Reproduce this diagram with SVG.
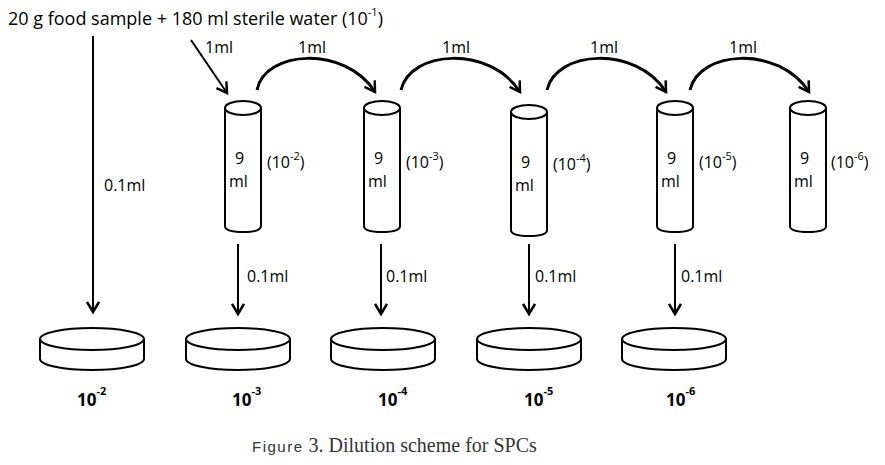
<svg xmlns="http://www.w3.org/2000/svg" width="885" height="465" viewBox="0 0 885 465">
<style>
text{font-family:"Open Sans","Liberation Sans",sans-serif;font-size:16px;fill:#000}
.s{fill:#fff;stroke:#000;stroke-width:2}
.a{fill:none;stroke:#000;stroke-width:2;marker-end:url(#ah)}
.t{stroke-width:3}
.b{font-weight:bold;font-size:17px}
.sup{font-size:11px}
</style>
<defs>
<marker id="ah" markerWidth="14" markerHeight="14" refX="11" refY="7" orient="auto" markerUnits="userSpaceOnUse"><path d="M1,1 L11,7 L1,13" fill="none" stroke="#000" stroke-width="2.5"/></marker>
<g id="tube"><path class="s" d="M-18,0 V118 Q-18,124 0,124 Q18,124 18,118 V0"/><ellipse class="s" cx="0" cy="0" rx="18" ry="7"/></g>
<g id="dish"><path class="s" d="M-52,0 V20 A52,11 0 0 0 52,20 V0"/><ellipse class="s" cx="0" cy="0" rx="52" ry="11"/></g>
</defs>
<text x="8" y="25" style="font-size:18px">20 g food sample + 180 ml sterile water (10<tspan class="sup" dy="-9">-1</tspan><tspan dy="9">)</tspan></text>
<g id="connectors">
<line class="a" x1="93" y1="36" x2="93" y2="312"/>
<line class="a" x1="191" y1="40" x2="227" y2="93"/>
<path class="a t" d="M257,90 C265,50 345,45 375,92"/>
<path class="a t" d="M401,90 C410,50 490,45 520,92"/>
<path class="a t" d="M547,90 C556,50 636,45 666,92"/>
<path class="a t" d="M690,90 C699,50 779,45 809,92"/>
<line class="a" x1="238" y1="244" x2="238" y2="314"/>
<line class="a" x1="381" y1="244" x2="381" y2="314"/>
<line class="a" x1="529" y1="244" x2="529" y2="314"/>
<line class="a" x1="675" y1="244" x2="675" y2="314"/>
</g>
<text x="205" y="53">1ml</text>
<text x="298" y="53">1ml</text>
<text x="442" y="53">1ml</text>
<text x="590" y="53">1ml</text>
<text x="729" y="53">1ml</text>
<text x="104" y="191">0.1ml</text>
<text x="247" y="282">0.1ml</text>
<text x="386" y="282">0.1ml</text>
<text x="535" y="282">0.1ml</text>
<text x="681" y="282">0.1ml</text>
<g id="tube1"><use href="#tube" x="243" y="108"/><text x="235" y="164">9</text><text x="229" y="187">ml</text><text x="267" y="168">(10<tspan class="sup" dy="-8">-2</tspan><tspan dy="8">)</tspan></text></g>
<g id="tube2"><use href="#tube" x="382" y="108"/><text x="374" y="164">9</text><text x="368" y="187">ml</text><text x="406" y="168">(10<tspan class="sup" dy="-8">-3</tspan><tspan dy="8">)</tspan></text></g>
<g id="tube3"><use href="#tube" x="529" y="112"/><text x="521" y="168">9</text><text x="515" y="191">ml</text><text x="553" y="170">(10<tspan class="sup" dy="-8">-4</tspan><tspan dy="8">)</tspan></text></g>
<g id="tube4"><use href="#tube" x="675" y="108"/><text x="667" y="164">9</text><text x="661" y="187">ml</text><text x="699" y="168">(10<tspan class="sup" dy="-8">-5</tspan><tspan dy="8">)</tspan></text></g>
<g id="tube5"><use href="#tube" x="808" y="108"/><text x="800" y="164">9</text><text x="794" y="187">ml</text><text x="831" y="168">(10<tspan class="sup" dy="-8">-6</tspan><tspan dy="8">)</tspan></text></g>
<g id="dish1"><use href="#dish" x="92" y="339"/><text class="b" x="77" y="406">10<tspan class="sup" dy="-11">-2</tspan></text></g>
<g id="dish2"><use href="#dish" x="238" y="339"/><text class="b" x="232" y="406">10<tspan class="sup" dy="-11">-3</tspan></text></g>
<g id="dish3"><use href="#dish" x="383" y="339"/><text class="b" x="378" y="406">10<tspan class="sup" dy="-11">-4</tspan></text></g>
<g id="dish4"><use href="#dish" x="529" y="339"/><text class="b" x="524" y="406">10<tspan class="sup" dy="-11">-5</tspan></text></g>
<g id="dish5"><use href="#dish" x="674" y="339"/><text class="b" x="666" y="406">10<tspan class="sup" dy="-11">-6</tspan></text></g>
<text x="252" y="452" style="font-family:'Liberation Serif',serif;font-size:20px;fill:#333"><tspan style="font-family:'Liberation Sans',sans-serif;font-size:15px;letter-spacing:1.5px">Figure</tspan> 3. Dilution scheme for SPCs</text>
</svg>
